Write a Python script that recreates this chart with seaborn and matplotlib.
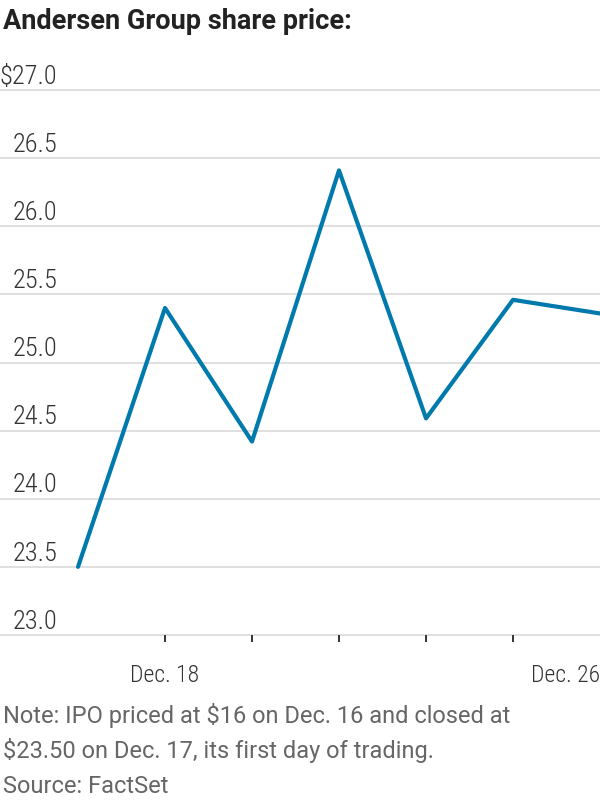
import matplotlib
matplotlib.use('Agg')
import matplotlib.pyplot as plt
import seaborn as sns
import pandas as pd

# chart data
dates = ['Dec. 17', 'Dec. 18', 'Dec. 19', 'Dec. 22', 'Dec. 23', 'Dec. 24', 'Dec. 26']
prices = [23.50, 25.40, 24.42, 26.41, 24.59, 25.46, 25.36]
y_ticks = [23.0, 23.5, 24.0, 24.5, 25.0, 25.5, 26.0, 26.5, 27.0]
y_labels = ['23.0', '23.5', '24.0', '24.5', '25.0', '25.5', '26.0', '26.5', '$27.0']
x_labels = ['Dec. 18', '', '', '', '', 'Dec. 26']

title = 'Andersen Group share price:'
note_lines = ['Note: IPO priced at $16 on Dec. 16 and closed at',
              '$23.50 on Dec. 17, its first day of trading.',
              'Source: FactSet']

df = pd.DataFrame({'day': range(len(dates)), 'price': prices})

sns.set_style('white')
plt.rcParams['font.family'] = ['Roboto Condensed', 'DejaVu Sans']
wide_font = ['Roboto', 'DejaVu Sans']

fig = plt.figure(figsize=(6, 8), dpi=100)
ax = fig.add_axes([0, 1 - 635 / 800, 1, (635 - 90) / 800])

sns.lineplot(data=df, x='day', y='price', ax=ax, color='#0079AD', lw=3, clip_on=False, zorder=3)

ax.set_xlim(-78 / 87, len(dates) - 1)
ax.set_ylim(23.0, 27.0)

# gridlines + y labels sitting on top of them
for v, lab in zip(y_ticks, y_labels):
    ax.axhline(v, color='#e0e0e0', lw=1.4, zorder=0, clip_on=False)
    ax.annotate(lab, xy=(57 / 600, v), xycoords=ax.get_yaxis_transform(),
                xytext=(0, 4.5), textcoords='offset points',
                ha='right', va='baseline', fontsize=19, color='#333333',
                fontweight='light')
ax.set_yticks([])

ax.set_xticks(range(1, len(dates)))
ax.set_xticklabels(x_labels, fontsize=17, color='#333333', fontweight='light')
ax.tick_params(axis='x', bottom=True, length=5, width=1.4, color='#333333',
               pad=16, direction='out')
ax.get_xticklabels()[-1].set_horizontalalignment('right')
ax.get_xticklines()[-2].set_visible(False)
ax.set_xlabel('')
ax.set_ylabel('')
sns.despine(ax=ax, left=True, bottom=True)

fig.text(3 / 600, 1 - 29 / 800, title, fontsize=19.5, fontweight='bold',
         color='#222222', va='baseline', ha='left', family=wide_font)
for i, line in enumerate(note_lines):
    fig.text(3 / 600, 1 - (723 + 35 * i) / 800, line, fontsize=17, color='#666666',
             va='baseline', ha='left', family=wide_font)

fig.savefig('out.png', dpi=100)
